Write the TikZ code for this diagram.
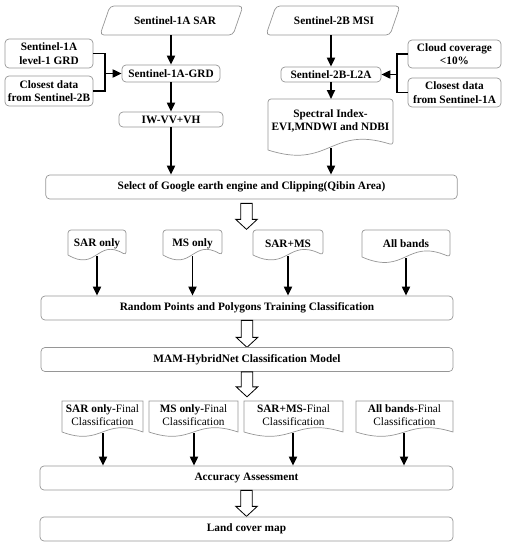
\documentclass[tikz,border=0pt]{standalone}
\usepackage{fontspec}
\setmainfont{Liberation Serif}
\usetikzlibrary{arrows.meta,calc}
\definecolor{boxgray}{RGB}{150,150,150}
\newcommand\docoutline[6]{% cx, top, width, base, wave, corner style
  \draw[outl,#6] ({#1-#3/2},#4) -- ({#1-#3/2},#2) -- ({#1+#3/2},#2) -- ({#1+#3/2},#4)
    .. controls (#1,{#4-#5}) and (#1,{#4+#5}) .. ({#1-#3/2},#4);}
\newcommand\hollowarrow[2]{%
  \draw[hollow] #1 ++(-5.8,0) -- ++(0,{#2-10}) -- ++(-5,0) -- ++(10.8,10) -- ++(10.8,-10) -- ++(-5,0) -- ++(0,{-(#2-10)}) -- cycle;}
\begin{document}
\begin{tikzpicture}[x=1pt,y=-1pt,
  box/.style={draw=boxgray, line width=0.7pt, rounded corners=4pt, inner sep=0pt, align=center, font=\fontsize{11.3}{13.6}\selectfont\bfseries},
  txt/.style={inner sep=0pt, align=center, font=\fontsize{11.3}{13.6}\selectfont\bfseries},
  ftxt/.style={inner sep=0pt, align=center, font=\fontsize{11.3}{13.6}\selectfont},
  outl/.style={draw=boxgray, line width=0.7pt},
  arr/.style={-{Triangle[width=8pt,length=9pt]}, line width=1.8pt},
  conn/.style={line width=1.8pt},
  hollow/.style={draw=black, line width=0.8pt, fill=white, line join=miter}]
\useasboundingbox (0,0) rectangle (506,550);

% top inputs
\node[txt] (s1) at (175,20.5) {Sentinel-1A SAR};
\draw[outl, rounded corners=4pt] (100,35) -- (110,6) -- (243,6) -- (233,35) -- cycle;
\coordinate (s1b) at (171,35);
\node[txt] (s2) at (334,20.5) {Sentinel-2B MSI};
\draw[outl, rounded corners=4pt] (266,35) -- (276,6) -- (400,6) -- (390,35) -- cycle;
\coordinate (s2b) at (331,35);

% left branch
\node[box, minimum width=98pt, minimum height=17pt] (grd) at (171,73.5) {Sentinel-1A-GRD};
\node[box, minimum width=104pt, minimum height=15pt] (iw) at (171,119.5) {IW-VV+VH};
\node[box, minimum width=88pt, minimum height=29pt] (l1) at (49,53.5) {Sentinel-1A\\level-1 GRD};
\node[box, minimum width=88pt, minimum height=30pt] (cd2b) at (49,91) {Closest data\\from Sentinel-2B};

% right branch
\node[box, minimum width=100pt, minimum height=15pt] (l2a) at (331,74.5) {Sentinel-2B-L2A};
\node[box, minimum width=93pt, minimum height=28pt] (cloud) at (454.5,54) {Cloud coverage\\<10\%};
\node[box, minimum width=93pt, minimum height=29pt] (cd1a) at (454.5,92.5) {Closest data\\from Sentinel-1A};
\node[txt] (spec) at (330.5,121) {Spectral Index-\\EVI,MNDWI and NDBI};
\draw[outl, rounded corners=3pt] (268,150) -- (268,99) -- (393,99) -- (393,145)
   .. controls (330,125) and (330,170) .. (268,150);
\coordinate (spect) at (331,99);
\coordinate (specb) at (331,148);

% select
\node[box, minimum width=411.5pt, minimum height=24pt] (select) at (251.5,187) {Select of Google earth engine and Clipping(Qibin Area)};

% connectors top
\draw[arr] (s1b) -- (s1b |- grd.north);
\draw[arr] (grd.south) -- (iw.north);
\draw[arr] (iw.south) -- (iw.south |- select.north);
\coordinate (jl) at (105,0);
\draw[conn] (l1.east) -- (l1.east -| jl) -- (cd2b.east -| jl) -- (cd2b.east);
\draw[arr] (grd.west -| jl) -- (grd.west);
\draw[arr] (s2b) -- (s2b |- l2a.north);
\draw[arr] (l2a.south -| spect) -- (spect);
\coordinate (jr) at (397,0);
\draw[conn] (cloud.west) -- (cloud.west -| jr) -- (cd1a.west -| jr) -- (cd1a.west);
\draw[arr] (l2a.east -| jr) -- (l2a.east);
\draw[arr] (specb) -- (specb |- select.north);

\hollowarrow{($(select.south)+(-5,4)$)}{26}

% data sets
\node[txt] (sar) at (97,244) {SAR only};
\docoutline{97}{230}{58}{255}{17}{rounded corners=3pt}
\coordinate (sarb) at (97,256);
\node[txt] (ms) at (192.5,244) {MS only};
\docoutline{192.5}{230}{59}{255}{17}{rounded corners=3pt}
\coordinate (msb) at (192.5,256);
\node[txt] (sarms) at (288,244) {SAR+MS};
\docoutline{288}{230}{70}{255}{17}{rounded corners=3pt}
\coordinate (sarmsb) at (288,256);
\node[txt] (allb) at (406,244) {All bands};
\docoutline{406}{230}{88}{257}{19}{rounded corners=3pt}
\coordinate (allbb) at (406,258);

\node[box, minimum width=412pt, minimum height=24pt] (random) at (247,308) {Random Points and Polygons Training Classification};
\draw[arr] (sarb) -- (sarb |- random.north);
\draw[arr] (msb) -- (msb |- random.north);
\draw[arr] (sarmsb) -- (sarmsb |- random.north);
\draw[arr] (allbb) -- (allbb |- random.north);

\hollowarrow{(random.south)}{27}
\node[box, minimum width=412pt, minimum height=24pt] (mam) at (247,359.5) {MAM-HybridNet Classification Model};
\hollowarrow{(mam.south)}{25}

% final classifications
\node[ftxt] (f1) at (102.5,415) {\textbf{SAR only-}Final\\Classification};
\docoutline{102.5}{401}{81}{432}{15}{sharp corners}
\coordinate (f1b) at (103,433);
\node[ftxt] (f2) at (193.5,415) {\textbf{MS only-}Final\\Classification};
\docoutline{193.5}{401}{89}{432}{15}{sharp corners}
\coordinate (f2b) at (194,433);
\node[ftxt] (f3) at (293.5,415) {\textbf{SAR+MS-}Final\\Classification};
\docoutline{293.5}{401}{99}{432}{15}{sharp corners}
\coordinate (f3b) at (293,433);
\node[ftxt] (f4) at (404.5,415) {\textbf{All bands-}Final\\Classification};
\docoutline{404.5}{401}{97}{432}{15}{sharp corners}
\coordinate (f4b) at (404,433);

\node[box, minimum width=413pt, minimum height=24pt] (acc) at (246.5,478) {Accuracy Assessment};
\draw[arr] (f1b) -- (f1b |- acc.north);
\draw[arr] (f2b) -- (f2b |- acc.north);
\draw[arr] (f3b) -- (f3b |- acc.north);
\draw[arr] (f4b) -- (f4b |- acc.north);

\hollowarrow{(acc.south)}{26}
\node[box, minimum width=413pt, minimum height=24pt] (land) at (246.5,529) {Land cover map};
\end{tikzpicture}
\end{document}
